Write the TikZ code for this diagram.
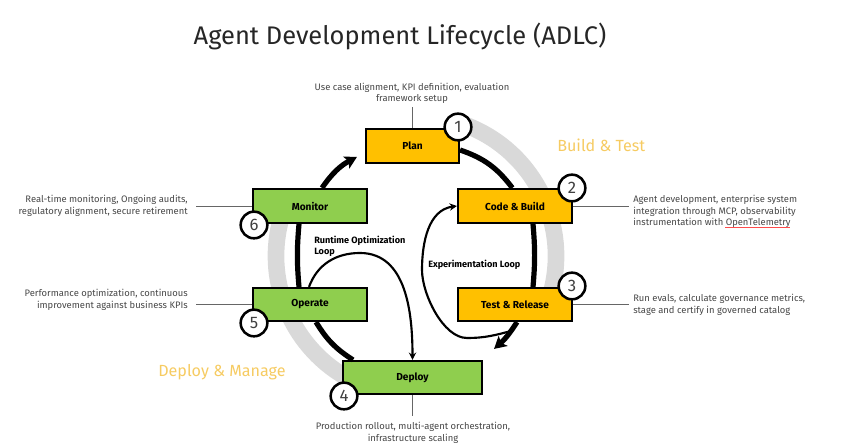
\documentclass[tikz,border=0pt]{standalone}
\usepackage{fontspec}
\setmainfont{Fira Sans}
\usetikzlibrary{positioning, fit, calc}
\usetikzlibrary{arrows, arrows.meta}
\definecolor{amberbox}{HTML}{FFC000}
\definecolor{greenbox}{HTML}{8FCE4E}
\definecolor{ringgrey}{HTML}{D9D9D9}
\definecolor{phasetext}{HTML}{F6CB62}
\definecolor{desctext}{HTML}{474747}
\tikzset{phasebox/.style={inner sep=0pt, draw, line width=1.6pt}}
\tikzset{boxtext/.style={inner sep=0pt, font=\fontsize{7.6}{9}\selectfont\bfseries}}
\tikzset{stepnum/.style={circle, draw, fill=white, line width=1.9pt, minimum size=20pt, inner sep=0pt, text=black!75, font=\fontsize{12.5}{13}\selectfont}}
\tikzset{beschreibung/.style={text=desctext, font=\fontsize{7.05}{8.7}\selectfont, inner sep=0pt}}
\tikzset{looplabel/.style={align=left, inner sep=0pt, font=\fontsize{6.85}{8.4}\selectfont\bfseries}}
\tikzset{phaselabel/.style={text=phasetext, inner sep=0pt, font=\fontsize{12.1}{14}\selectfont}}
\tikzset{leader/.style={draw=black!60, line width=.7pt}}
\tikzset{greyarc/.style={draw=ringgrey, line width=12.5pt}}
\tikzset{ringline/.style={line width=3.9pt}}
\tikzset{ringarrow/.style={ringline, -{Stealth[length=9pt, width=10pt, inset=2pt]}}}
\tikzset{looparrow/.style={line width=1.6pt, -{Stealth[length=5.5pt, width=5.5pt]}}}
\begin{document}
\begin{tikzpicture}[x=0.75pt, y=0.75pt]
	\useasboundingbox (0,0) rectangle (854,448);
	\coordinate (ringc) at (416,192);

	\node[inner sep=0pt, font=\fontsize{19.1}{24}\selectfont, text=black!85] (title) at (400,412) {Agent Development Lifecycle (ADLC)};

	% grey ring
	\draw[greyarc] ([shift={(72:140)}]ringc) arc (72:-14:140);
	\draw[greyarc] ([shift={(166:140)}]ringc) arc (166:242:140);

	% BUILD AND TEST
	\node[phasebox, fill=amberbox, fit={(366,319) (459,285)}, label={[boxtext]center:Plan}] (plan) {};
	\node[phasebox, fill=amberbox, fit={(458,259) (572,225)}, label={[boxtext]center:Code \& Build}] (code) {};
	\node[phasebox, fill=amberbox, fit={(458,160) (572,127)}, label={[boxtext]center:Test \& Release}] (test) {};

	% DEPLOY AND MANAGE
	\node[phasebox, fill=greenbox, fit={(343,87) (482,54)}, label={[boxtext]center:Deploy}] (deploy) {};
	\node[phasebox, fill=greenbox, fit={(253,160) (367,127)}, label={[boxtext]center:Operate}] (operate) {};
	\node[phasebox, fill=greenbox, fit={(253,259) (367,225)}, label={[boxtext]center:Monitor}] (monitor) {};

	% main cycle
	\draw[ringline] ([yshift=-3pt]plan.east) to[bend left=17] ([xshift=-2pt]code.north);
	\draw[ringline] ([xshift=13.5pt]code.south) to[bend left=5] ([xshift=13.5pt]test.north);
	\draw[ringarrow] ([xshift=1.5pt]test.south) to[bend left=8] ([shift={(8.25pt,8.25pt)}]deploy.north east);
	\draw[ringline] ([xshift=-44.6pt]deploy.north) to[bend left=13] ([xshift=4.5pt]operate.south);
	\draw[ringline] ([xshift=-8.25pt]operate.north) to[bend left=5] ([xshift=-8.25pt]monitor.south);
	\draw[ringarrow] ([xshift=9pt]monitor.north) to[bend left=14] ([shift={(-6pt,-8.25pt)}]plan.west);

	% loops
	\coordinate (runtimeTop) at (360,195);
	\coordinate (expLow) at (467,110);
	\coordinate (expLeft) at (422,178);
	\draw[looparrow] ([xshift=-0.75pt]operate.north) to[out=70,in=180] (runtimeTop) to[out=0,in=90] (deploy.north);
	\draw[looparrow] ([shift={(-2.25pt,-6.5pt)}]test.south) to[out=195,in=0] (expLow) to[out=180,in=-90,looseness=.75] (expLeft) to[out=90,in=188] (code.west);
	\node[looplabel, anchor=north west] (runtimeText) at (314,212) {Runtime Optimization\\Loop};
	\node[looplabel, anchor=west] (expText) at (428,183) {Experimentation Loop};

	% numbers
	\node[stepnum] (n1) at (458,321) {1};
	\node[stepnum] (n2) at (572,260) {2};
	\node[stepnum] (n3) at (572,162) {3};
	\node[stepnum] (n4) at (344,52) {4};
	\node[stepnum] (n5) at (254,125) {5};
	\node[stepnum] (n6) at (254,223) {6};

	% descriptions
	\node[beschreibung, align=center, anchor=south] (planText) at (412,344) {Use case alignment, KPI definition, evaluation\\framework setup};
	\node[beschreibung, align=center, anchor=north] (deployText) at (413,26) {Production rollout, multi-agent orchestration,\\infrastructure scaling};
	\node[beschreibung, align=left, anchor=west] (codeText) at (633,236.5) {Agent development, enterprise system\\integration through MCP, observability\\instrumentation with OpenTelemetry};
	\node[beschreibung, align=left, anchor=west] (testText) at (633,143) {Run evals, calculate governance metrics,\\stage and certify in governed catalog};
	\node[beschreibung, align=right, anchor=east] (monitorText) at (188,242) {Real-time monitoring, Ongoing audits,\\regulatory alignment, secure retirement};
	\node[beschreibung, align=right, anchor=east] (operateText) at (188,148) {Performance optimization, continuous\\improvement against business KPIs};
	\draw[leader] (plan.north) -- ++(0,16pt);
	\draw[leader] (deploy.south) -- ++(0,-16pt);
	\draw[leader] (code.east) -- ++(42pt,0);
	\draw[leader] (test.east) -- ++(42pt,0);
	\draw[leader] (monitor.west) -- ++(-42pt,0);
	\draw[leader] (operate.west) -- ++(-42pt,0);
	\draw[red!70, line width=.4pt] (725,221) -- (790,221);

	% phases
	\node[phaselabel, anchor=west] (buildText) at (557,303) {Build \& Test};
	\node[phaselabel, anchor=west] (manageText) at (158,76) {Deploy \& Manage};
\end{tikzpicture}
\end{document}
